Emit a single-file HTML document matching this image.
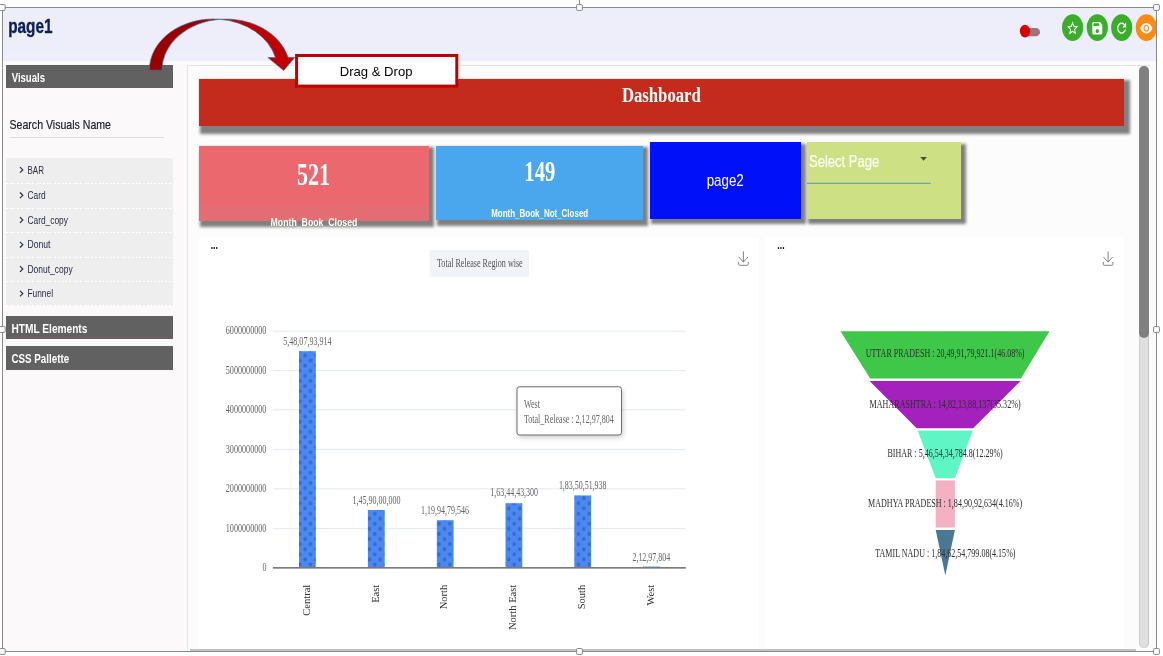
<!DOCTYPE html>
<html><head><meta charset="utf-8"><title>page1</title>
<style>
html,body{margin:0;padding:0;}
body{width:1163px;height:656px;overflow:hidden;background:#fff;position:relative;font-family:"Liberation Sans", sans-serif;}
div{position:absolute;box-sizing:border-box;}
#frame{left:2px;top:7px;width:1155px;height:645px;border:1px solid #8a8a8a;background:#fbf9fa;}
#hdr{left:3px;top:8px;width:1153px;height:53px;background:#eeeefa;}
#hdr2{left:3px;top:51px;width:1153px;height:10px;background:#efeffb;}
.bar{left:6px;width:167px;background:#616161;}
#srch{left:9.5px;top:137px;width:154px;height:1px;background:#dcdcdc;}
#list{left:6px;top:158.3px;width:167px;height:147.6px;background:#eeeeee;border-radius:3px 3px 0 0;}
#list i{position:absolute;left:0;width:167px;height:1px;background:repeating-linear-gradient(90deg,#fff 0,#fff 2px,transparent 2px,transparent 3.7px);}
#main{left:187px;top:65px;width:963px;height:586px;background:#fdfcfd;border:1px solid #e6e4e6;border-right:none;border-bottom:none;}
.sh{background:#808080;filter:blur(1.5px);}
#banner{left:199.2px;top:79px;width:924.8px;height:47px;background:#c42b1c;}
#c1{left:199.2px;top:146px;width:230px;height:74.9px;background:linear-gradient(#eb686e 0,#eb686e 59px,#e36d72 59px);}
#c2{left:436px;top:146px;width:207.4px;height:74px;background:#4aa7ed;}
#c3{left:650.2px;top:142.3px;width:150.8px;height:76.3px;background:#0010f8;}
#c4{left:807px;top:142.3px;width:154px;height:76.3px;background:#cde084;}
.panel{background:#fff;}
#p1{left:199.4px;top:237px;width:560px;height:412px;}
#p2{left:766.2px;top:237px;width:357.8px;height:412px;}
#vtrack{left:1139.3px;top:66px;width:10.2px;height:581.5px;border-radius:5px;background:#dfdfdf;box-shadow:inset 1px 0 0 #cfcfcf, inset -1px 0 0 #c4c4c4;}
#vthumb{left:1139.4px;top:66px;width:10px;height:272px;border-radius:5px;background:#808080;}
#hscroll{left:189.5px;top:649px;width:946.5px;height:2px;background:#c2c2c2;}
svg{position:absolute;left:0;top:0;}
.s{font-family:"Liberation Sans", sans-serif;} .sb{font-family:"Liberation Sans", sans-serif;font-weight:bold;}
.r{font-family:"Liberation Serif", serif;} .rb{font-family:"Liberation Serif", serif;font-weight:bold;}
</style></head><body>
<div id="frame"></div>
<div id="hdr"></div><div id="hdr2"></div>
<div class="bar" style="top:65px;height:23.3px"></div>
<div id="srch"></div>
<div id="list"><i style="top:24.7px"></i><i style="top:49.7px"></i><i style="top:74.1px"></i><i style="top:98.7px"></i><i style="top:123.2px"></i><i style="top:147px"></i></div>
<div class="bar" style="top:316px;height:23px"></div>
<div class="bar" style="top:346px;height:23.7px"></div>
<div id="main"></div>
<div class="sh" style="left:200.3px;top:80.3px;width:929.5px;height:54.1px"></div><div class="sh" style="left:200.4px;top:147.2px;width:233.5px;height:79.5px"></div><div class="sh" style="left:437.2px;top:147.2px;width:210.9px;height:78.6px"></div><div class="sh" style="left:651.4px;top:143.5px;width:154.3px;height:80.9px"></div><div class="sh" style="left:808.2px;top:143.5px;width:157.5px;height:80.9px"></div>
<div id="banner"></div>
<div id="c1" class="card"></div><div id="c2" class="card"></div><div id="c3" class="card"></div><div id="c4" class="card"></div>
<div id="p1" class="panel"></div><div id="p2" class="panel"></div>
<div id="vtrack"></div><div id="vthumb"></div><div id="hscroll"></div>
<svg width="1163" height="656" viewBox="0 0 1163 656">
<defs><filter id="tsh" x="-15%" y="-25%" width="135%" height="170%"><feDropShadow dx="1" dy="2" stdDeviation="2.6" flood-color="#000" flood-opacity="0.2"/></filter></defs>
<g id="arrow" stroke="#41719c" stroke-width="0.7" stroke-linejoin="round">
<path d="M149.4,70.2 A64,51 0 0 1 219.7,19.25 A64,51 0 0 0 162,70.2 Z" fill="#9a0000"/>
<path d="M219.7,19.25 A64,51 0 0 1 288.05,57.3 L294.7,57.4 L283.7,70.6 L267.9,57.6 L275.5,57.6 A64,51 0 0 0 219.7,19.25 Z" fill="#c00000"/>
</g>
<rect x="296.6" y="55.5" width="160.2" height="30.6" fill="#fff" stroke="#c00000" stroke-width="3"/>
<text x="339.7" y="75.6" font-size="13.2" class="s" fill="#000" textLength="72.8" lengthAdjust="spacingAndGlyphs">Drag &amp; Drop</text>
<text x="8.2" y="33.1" font-size="20" class="sb" fill="#0b1f55" textLength="44.4" lengthAdjust="spacingAndGlyphs" stroke="#0b1f55" stroke-width="0.35">page1</text>
<rect x="1021" y="28" width="19" height="8.3" rx="4.15" fill="#a26f7a"/>
<ellipse cx="1025" cy="31.1" rx="5.2" ry="6.3" fill="#d90000"/>
<clipPath id="cpR"><rect x="0" y="0" width="1156" height="656"/></clipPath><g clip-path="url(#cpR)">
<ellipse cx="1072.6" cy="27.6" rx="10.6" ry="13.3" fill="#3aae2a"/>
<path transform="translate(1065.94,19.80) scale(0.555,0.7)" d="M22 9.24l-7.19-.62L12 2 9.19 8.63 2 9.24l5.46 4.73L5.82 21 12 17.27 18.18 21l-1.63-7.03L22 9.24zM12 15.4l-3.76 2.27 1-4.28-3.32-2.88 4.38-.38L12 6.1l1.71 4.04 4.38.38-3.32 2.88 1 4.28L12 15.4z" fill="#fff"/>
<ellipse cx="1097.3" cy="27.6" rx="10.6" ry="13.3" fill="#3aae2a"/>
<path transform="translate(1090.64,19.80) scale(0.555,0.7)" d="M17 3H5c-1.11 0-2 .9-2 2v14c0 1.1.89 2 2 2h14c1.1 0 2-.9 2-2V7l-4-4zm-5 16c-1.66 0-3-1.34-3-3s1.34-3 3-3 3 1.34 3 3-1.34 3-3 3zm3-10H5V5h10v4z" fill="#fff"/>
<ellipse cx="1121.7" cy="27.6" rx="10.6" ry="13.3" fill="#3aae2a"/>
<path transform="translate(1115.04,19.80) scale(0.555,0.7)" d="M17.65 6.35C16.2 4.9 14.21 4 12 4c-4.42 0-7.99 3.58-7.99 8s3.57 8 7.99 8c3.73 0 6.84-2.55 7.73-6h-2.08c-.82 2.33-3.04 4-5.65 4-3.31 0-6-2.69-6-6s2.69-6 6-6c1.66 0 3.14.69 4.22 1.78L13 11h7V4l-2.35 2.35z" fill="#fff"/>
<ellipse cx="1146.3" cy="27.6" rx="10.6" ry="13.3" fill="#fb8b14"/>
<path transform="translate(1139.64,19.80) scale(0.555,0.7)" d="M12 4.5C7 4.5 2.73 7.61 1 12c1.73 4.39 6 7.5 11 7.5s9.27-3.11 11-7.5c-1.73-4.39-6-7.5-11-7.5zM12 17c-2.76 0-5-2.24-5-5s2.24-5 5-5 5 2.24 5 5-2.24 5-5 5zm0-8c-1.66 0-3 1.34-3 3s1.34 3 3 3 3-1.34 3-3-1.34-3-3-3z" fill="#fff"/>
</g>
<text x="11.7" y="81.8" font-size="12.5" class="sb" fill="#fff" textLength="33.3" lengthAdjust="spacingAndGlyphs">Visuals</text>
<text x="9.5" y="128.8" font-size="12.6" class="s" fill="#22222e" textLength="101.5" lengthAdjust="spacingAndGlyphs" stroke="#22222e" stroke-width="0.2">Search Visuals Name</text>
<text x="27.5" y="173.6" font-size="11.4" class="s" fill="#2b2b45" textLength="16.5" lengthAdjust="spacingAndGlyphs">BAR</text>
<path d="M20,167.1 L22.8,169.9 L20,172.7" fill="none" stroke="#2b2b45" stroke-width="1.2"/>
<text x="27.5" y="199.0" font-size="11.4" class="s" fill="#2b2b45" textLength="18.1" lengthAdjust="spacingAndGlyphs">Card</text>
<path d="M20,192.5 L22.8,195.3 L20,198.1" fill="none" stroke="#2b2b45" stroke-width="1.2"/>
<text x="27.5" y="223.7" font-size="11.4" class="s" fill="#2b2b45" textLength="40.4" lengthAdjust="spacingAndGlyphs">Card_copy</text>
<path d="M20,217.2 L22.8,220.0 L20,222.8" fill="none" stroke="#2b2b45" stroke-width="1.2"/>
<text x="27.5" y="248.4" font-size="11.4" class="s" fill="#2b2b45" textLength="22.9" lengthAdjust="spacingAndGlyphs">Donut</text>
<path d="M20,241.9 L22.8,244.7 L20,247.5" fill="none" stroke="#2b2b45" stroke-width="1.2"/>
<text x="27.5" y="272.7" font-size="11.4" class="s" fill="#2b2b45" textLength="45.2" lengthAdjust="spacingAndGlyphs">Donut_copy</text>
<path d="M20,266.2 L22.8,269.0 L20,271.8" fill="none" stroke="#2b2b45" stroke-width="1.2"/>
<text x="27.5" y="297.3" font-size="11.4" class="s" fill="#2b2b45" textLength="25.5" lengthAdjust="spacingAndGlyphs">Funnel</text>
<path d="M20,290.8 L22.8,293.6 L20,296.4" fill="none" stroke="#2b2b45" stroke-width="1.2"/>
<text x="11.5" y="332.5" font-size="12.5" class="sb" fill="#fff" textLength="75.9" lengthAdjust="spacingAndGlyphs">HTML Elements</text>
<text x="11.5" y="362.7" font-size="12.5" class="sb" fill="#fff" textLength="57.6" lengthAdjust="spacingAndGlyphs">CSS Pallette</text>
<text x="621.9" y="101.8" font-size="21.4" class="rb" fill="#fff" textLength="78.9" lengthAdjust="spacingAndGlyphs">Dashboard</text>
<text x="296.9" y="185" font-size="31.8" class="rb" fill="#fff" textLength="33.1" lengthAdjust="spacingAndGlyphs">521</text>
<text x="270.6" y="225.7" font-size="11.7" class="sb" fill="#fffdf5" textLength="86.8" lengthAdjust="spacingAndGlyphs">Month_Book_Closed</text>
<text x="524.3" y="181.2" font-size="28.6" class="rb" fill="#fff" textLength="31" lengthAdjust="spacingAndGlyphs">149</text>
<text x="491.2" y="217.2" font-size="10.7" class="sb" fill="#fff" textLength="97" lengthAdjust="spacingAndGlyphs">Month_Book_Not_Closed</text>
<text x="706.7" y="186.1" font-size="16" class="s" fill="#fff" textLength="37.1" lengthAdjust="spacingAndGlyphs">page2</text>
<text x="809" y="166.5" font-size="16" class="s" fill="#fbfdf2" textLength="70.2" lengthAdjust="spacingAndGlyphs" stroke="#fbfdf2" stroke-width="0.25">Select Page</text>
<rect x="807" y="182.8" width="123.6" height="0.9" fill="#4f86c2"/>
<path d="M920.3,156.9 L926.9,156.9 L923.6,160.8 Z" fill="#4d4d35"/>
<rect x="429.6" y="250" width="99.4" height="26.8" fill="#f1f3f7"/>
<text x="437" y="266.5" font-size="12" class="r" fill="#555" textLength="85.7" lengthAdjust="spacingAndGlyphs">Total Release Region wise</text>
<text x="210.7" y="249" font-size="13" class="sb" fill="#111" textLength="7.3" lengthAdjust="spacingAndGlyphs">...</text>
<text x="777.3" y="249" font-size="13" class="sb" fill="#111" textLength="7.3" lengthAdjust="spacingAndGlyphs">...</text>
<g fill="none" stroke="#858585" stroke-width="1" stroke-linecap="round" stroke-linejoin="round"><path d="M743.4,251.8 V262 M739.0,257.2 L743.4,262 L747.8,257.2"/><path d="M738.6,262.2 V264.3 Q738.6,265.3 739.6,265.3 H747.1999999999999 Q748.1999999999999,265.3 748.1999999999999,264.3 V262.2"/></g>
<g fill="none" stroke="#858585" stroke-width="1" stroke-linecap="round" stroke-linejoin="round"><path d="M1108.1,251.8 V262 M1103.6999999999998,257.2 L1108.1,262 L1112.5,257.2"/><path d="M1103.3,262.2 V264.3 Q1103.3,265.3 1104.3,265.3 H1111.8999999999999 Q1112.8999999999999,265.3 1112.8999999999999,264.3 V262.2"/></g>
<rect x="272.9" y="330.7" width="412.9" height="1" fill="#e3e8f2"/>
<text x="225.8" y="334.3" font-size="11.7" class="r" fill="#666" textLength="40.6" lengthAdjust="spacingAndGlyphs">6000000000</text>
<rect x="272.9" y="370.1" width="412.9" height="1" fill="#e3e8f2"/>
<text x="225.8" y="373.7" font-size="11.7" class="r" fill="#666" textLength="40.6" lengthAdjust="spacingAndGlyphs">5000000000</text>
<rect x="272.9" y="409.3" width="412.9" height="1" fill="#e3e8f2"/>
<text x="225.8" y="412.9" font-size="11.7" class="r" fill="#666" textLength="40.6" lengthAdjust="spacingAndGlyphs">4000000000</text>
<rect x="272.9" y="448.9" width="412.9" height="1" fill="#e3e8f2"/>
<text x="225.8" y="452.5" font-size="11.7" class="r" fill="#666" textLength="40.6" lengthAdjust="spacingAndGlyphs">3000000000</text>
<rect x="272.9" y="488.3" width="412.9" height="1" fill="#e3e8f2"/>
<text x="225.8" y="491.9" font-size="11.7" class="r" fill="#666" textLength="40.6" lengthAdjust="spacingAndGlyphs">2000000000</text>
<rect x="272.9" y="527.9" width="412.9" height="1" fill="#e3e8f2"/>
<text x="225.8" y="531.5" font-size="11.7" class="r" fill="#666" textLength="40.6" lengthAdjust="spacingAndGlyphs">1000000000</text>
<text x="262.6" y="571" font-size="12" class="r" fill="#666" textLength="4" lengthAdjust="spacingAndGlyphs">0</text>
<pattern id="dots" patternUnits="userSpaceOnUse" x="299.74" y="350.4" width="10.72" height="10.2">
<rect width="10.72" height="10.2" fill="#4a89f3"/>
<ellipse cx="0" cy="10.2" rx="1.7" ry="2" fill="#3a69c2"/><ellipse cx="10.72" cy="10.2" rx="1.7" ry="2" fill="#3a69c2"/>
<ellipse cx="0" cy="0" rx="1.7" ry="2" fill="#3a69c2"/><ellipse cx="10.72" cy="0" rx="1.7" ry="2" fill="#3a69c2"/>
<ellipse cx="5.36" cy="5.1" rx="1.7" ry="2" fill="#3a69c2"/></pattern>
<rect x="299.0" y="351.2" width="16.8" height="216.2" fill="url(#dots)"/>
<text x="283.3" y="345" font-size="11.7" class="r" fill="#666" textLength="48.2" lengthAdjust="spacingAndGlyphs">5,48,07,93,914</text>
<text transform="translate(309.6,584.8) scale(0.95,1) rotate(-90)" text-anchor="end" font-size="10.5" class="r" fill="#2f2f2f">Central</text>
<rect x="367.9" y="510" width="16.8" height="57.4" fill="url(#dots)"/>
<text x="352.4" y="503.8" font-size="11.7" class="r" fill="#666" textLength="48.0" lengthAdjust="spacingAndGlyphs">1,45,90,00,000</text>
<text transform="translate(378.5,584.8) scale(0.95,1) rotate(-90)" text-anchor="end" font-size="10.5" class="r" fill="#2f2f2f">East</text>
<rect x="436.8" y="520.2" width="16.8" height="47.2" fill="url(#dots)"/>
<text x="421.1" y="514.2" font-size="11.7" class="r" fill="#666" textLength="47.9" lengthAdjust="spacingAndGlyphs">1,19,94,79,546</text>
<text transform="translate(447.4,584.8) scale(0.95,1) rotate(-90)" text-anchor="end" font-size="10.5" class="r" fill="#2f2f2f">North</text>
<rect x="505.5" y="503.2" width="16.8" height="64.2" fill="url(#dots)"/>
<text x="490.2" y="496.2" font-size="11.7" class="r" fill="#666" textLength="47.9" lengthAdjust="spacingAndGlyphs">1,63,44,43,300</text>
<text transform="translate(516.1,584.8) scale(0.95,1) rotate(-90)" text-anchor="end" font-size="10.5" class="r" fill="#2f2f2f">North East</text>
<rect x="574.3" y="495.4" width="16.8" height="72.0" fill="url(#dots)"/>
<text x="558.9" y="488.7" font-size="11.7" class="r" fill="#666" textLength="47.6" lengthAdjust="spacingAndGlyphs">1,83,50,51,938</text>
<text transform="translate(584.9,584.8) scale(0.95,1) rotate(-90)" text-anchor="end" font-size="10.5" class="r" fill="#2f2f2f">South</text>
<rect x="643.1" y="566.6" width="16.8" height="0.8" fill="url(#dots)"/>
<text x="632.4" y="560.6" font-size="11.7" class="r" fill="#666" textLength="37.9" lengthAdjust="spacingAndGlyphs">2,12,97,804</text>
<text transform="translate(653.7,584.8) scale(0.95,1) rotate(-90)" text-anchor="end" font-size="10.5" class="r" fill="#2f2f2f">West</text>
<rect x="272.9" y="567.1" width="412.9" height="1.5" fill="#6e6e6e"/>
<rect x="517" y="386.8" width="104.5" height="48.2" rx="2.6" fill="#fff" stroke="#6a6a6a" stroke-width="1" filter="url(#tsh)"/>
<text x="523.9" y="407.6" font-size="12" class="r" fill="#666" textLength="16.1" lengthAdjust="spacingAndGlyphs">West</text>
<text x="523.9" y="423.1" font-size="12" class="r" fill="#666" textLength="89.9" lengthAdjust="spacingAndGlyphs">Total_Release : 2,12,97,804</text>
<polygon points="840.5,331.3 1049.5,331.3 1020.9,378.4 870.2,378.4" fill="#3ec748"/>
<polygon points="869.6,381 1020.6,381 973.2,428.2 916.6,428.2" fill="#a421bd"/>
<polygon points="917.6,430.4 972.8,430.4 954.9,478.3 935.7,478.3" fill="#5ff5c5"/>
<rect x="935.7" y="480.4" width="19.2" height="47.1" fill="#f4b1c1"/>
<polygon points="935.7,530.1 954.9,530.1 945.3,575.4" fill="#497796"/>
<text x="865.7" y="357.2" font-size="11.6" class="r" fill="#2e2e2e" textLength="158.8" lengthAdjust="spacingAndGlyphs">UTTAR PRADESH : 20,49,91,79,921.1(46.08%)</text>
<text x="869.6" y="407.6" font-size="11.6" class="r" fill="#2e2e2e" textLength="151" lengthAdjust="spacingAndGlyphs">MAHARASHTRA : 14,82,13,88,137(35.32%)</text>
<text x="887.5" y="457" font-size="11.6" class="r" fill="#2e2e2e" textLength="115.3" lengthAdjust="spacingAndGlyphs">BIHAR : 5,46,54,34,784.8(12.29%)</text>
<text x="868.1" y="507" font-size="11.6" class="r" fill="#2e2e2e" textLength="154.1" lengthAdjust="spacingAndGlyphs">MADHYA PRADESH : 1,84,90,92,634(4.16%)</text>
<text x="875.3" y="556.5" font-size="11.6" class="r" fill="#2e2e2e" textLength="140.2" lengthAdjust="spacingAndGlyphs">TAMIL NADU : 1,84,62,54,799.08(4.15%)</text>
<rect x="579" y="0" width="1" height="4.5" fill="#8a8a8a"/>
<rect x="-0.6000000000000001" y="4.6" width="5.8" height="5.8" rx="0.8" fill="#fff" stroke="#858585" stroke-width="1"/>
<rect x="576.6" y="4.6" width="5.8" height="5.8" rx="0.8" fill="#fff" stroke="#858585" stroke-width="1"/>
<rect x="1153.6" y="4.6" width="5.8" height="5.8" rx="0.8" fill="#fff" stroke="#858585" stroke-width="1"/>
<rect x="-0.6000000000000001" y="326.6" width="5.8" height="5.8" rx="0.8" fill="#fff" stroke="#858585" stroke-width="1"/>
<rect x="1153.6" y="326.6" width="5.8" height="5.8" rx="0.8" fill="#fff" stroke="#858585" stroke-width="1"/>
<rect x="-0.6000000000000001" y="648.6" width="5.8" height="5.8" rx="0.8" fill="#fff" stroke="#858585" stroke-width="1"/>
<rect x="576.6" y="648.6" width="5.8" height="5.8" rx="0.8" fill="#fff" stroke="#858585" stroke-width="1"/>
<rect x="1153.6" y="648.6" width="5.8" height="5.8" rx="0.8" fill="#fff" stroke="#858585" stroke-width="1"/>
</svg>
</body></html>
